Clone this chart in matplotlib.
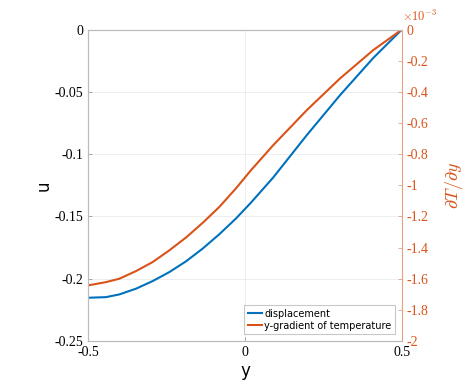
import matplotlib
matplotlib.use("Agg")
import matplotlib.pyplot as plt
import numpy as np

# sample points
y_pos = [-0.5, -0.443, -0.400, -0.347, -0.294, -0.241, -0.188, -0.135,
         -0.082, -0.029, 0.019, 0.090, 0.197, 0.303, 0.409, 0.5]
u_disp = [-0.2153, -0.2148, -0.2126, -0.2080, -0.2019, -0.1947, -0.1861, -0.1759,
          -0.1644, -0.1518, -0.1390, -0.1188, -0.0848, -0.0527, -0.0228, 0.0]
dTdy = [-1.643, -1.622, -1.600, -1.551, -1.493, -1.418, -1.336, -1.242,
        -1.140, -1.021, -0.904, -0.743, -0.518, -0.314, -0.132, 0.0]   # x 1e-3

left_ticks = [0, -0.05, -0.1, -0.15, -0.2, -0.25]
left_labels = ["0", "-0.05", "-0.1", "-0.15", "-0.2", "-0.25"]
right_ticks = [0, -0.2, -0.4, -0.6, -0.8, -1, -1.2, -1.4, -1.6, -1.8, -2]
right_labels = ["0", "-0.2", "-0.4", "-0.6", "-0.8", "-1", "-1.2", "-1.4", "-1.6", "-1.8", "-2"]
x_ticks = [-0.5, 0, 0.5]
x_labels = ["-0.5", "0", "0.5"]

blue = "#0072BD"
red = "#D95319"
axis_red = "#E8A07E"
serif = "Liberation Serif"

plt.rcParams["axes.unicode_minus"] = False
plt.rcParams["mathtext.fontset"] = "cm"

fig = plt.figure(figsize=(4.74, 3.84), dpi=100)
ax = fig.add_axes([0.1857, 0.112, 0.662, 0.811])
ax2 = ax.twinx()

l1, = ax.plot(y_pos, u_disp, color=blue, lw=1.5, label="displacement")
l2, = ax2.plot(y_pos, np.array(dTdy) * 1e-3, color=red, lw=1.5,
               label="y-gradient of temperature")

ax.set_xlim(-0.5, 0.5)
ax.set_ylim(-0.25, 0)
ax2.set_ylim(-2e-3, 0)

ax.set_xticks(x_ticks)
ax.set_xticklabels(x_labels, fontfamily=serif, fontsize=10)
ax.set_yticks(left_ticks)
ax.set_yticklabels(left_labels, fontfamily=serif, fontsize=10)
ax2.set_yticks(np.array(right_ticks) * 1e-3)
ax2.set_yticklabels(right_labels, fontfamily=serif, fontsize=10, color=red)

ax.tick_params(direction="in", length=3, color="#999999", width=0.6)
ax2.tick_params(direction="in", length=3, color=axis_red, width=0.6)
ax.grid(True, color="#ebebeb", lw=0.6)

for s in ["left", "bottom", "top"]:
    ax.spines[s].set_color("#bbbbbb")
    ax2.spines[s].set_color("#bbbbbb")
ax2.spines["right"].set_color(axis_red)
ax.spines["right"].set_visible(False)
for sp in list(ax.spines.values()) + list(ax2.spines.values()):
    sp.set_linewidth(0.8)

ax.set_xlabel("y", fontsize=12, labelpad=2)
ax.set_ylabel("u", fontsize=12, labelpad=1)
ax2.set_ylabel(r"$\partial T/\partial y$", fontsize=13, color=red, labelpad=10)

ax2.text(1.0, 1.017, r"$\times10^{-3}$", transform=ax2.transAxes,
         color=red, fontsize=9, ha="left", va="bottom")

leg = ax2.legend(handles=[l1, l2], loc="lower right", fontsize=7,
                 frameon=True, fancybox=False, edgecolor="#bbbbbb",
                 handlelength=1.5, handletextpad=0.2, borderpad=0.35,
                 labelspacing=0.2, borderaxespad=0.7)
leg.get_frame().set_linewidth(0.8)

fig.savefig("out.png", dpi=100)
